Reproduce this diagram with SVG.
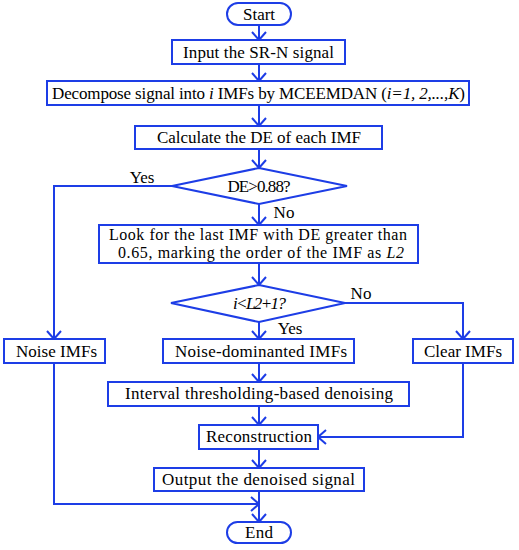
<svg xmlns="http://www.w3.org/2000/svg" width="519" height="550" viewBox="0 0 519 550">
<defs>
<style>
.b{fill:#fff;stroke:#1d3de6;stroke-width:2}
.c{fill:none;stroke:#1d3de6;stroke-width:2}
.t{font-family:'Liberation Serif','DejaVu Serif',serif;font-size:17px;fill:#000;text-anchor:middle}
.s{font-size:16px}
.i{font-style:italic}
</style>
<marker id="a" viewBox="0 0 10 16" refX="9" refY="8" markerWidth="10" markerHeight="16" markerUnits="userSpaceOnUse" orient="auto">
<path d="M1,1 L9,8 L1,15" fill="none" stroke="#1d3de6" stroke-width="2"/>
</marker>
</defs>
<rect width="519" height="550" fill="#fff"/>
<g id="connectors" class="c">
<path class="c" d="M259,25 V40" marker-end="url(#a)"/>
<path class="c" d="M259,64 V81" marker-end="url(#a)"/>
<path class="c" d="M259,105 V126" marker-end="url(#a)"/>
<path class="c" d="M259,149 V168" marker-end="url(#a)"/>
<path class="c" d="M259,204 V225" marker-end="url(#a)"/>
<path class="c" d="M172,186 H54 V339" marker-end="url(#a)"/>
<path class="c" d="M259,263 V285" marker-end="url(#a)"/>
<path class="c" d="M259,322 V339" marker-end="url(#a)"/>
<path class="c" d="M345,303 H463 V339" marker-end="url(#a)"/>
<path class="c" d="M259,363 V382" marker-end="url(#a)"/>
<path class="c" d="M259,406 V425" marker-end="url(#a)"/>
<path class="c" d="M463,363 V437 H318" marker-end="url(#a)"/>
<path class="c" d="M259,449 V468" marker-end="url(#a)"/>
<path class="c" d="M54,363 V504 H259" marker-end="url(#a)"/>
<path class="c" d="M259,491 V522" marker-end="url(#a)"/>
</g>
<g class="t" font-family="Liberation Serif, DejaVu Serif, serif">
<g id="labels">
<text x="142" y="183">Yes</text>
<text x="284" y="218">No</text>
<text x="361" y="299">No</text>
<text x="290" y="334">Yes</text>
</g>
<g id="start"><rect class="b" x="227" y="3" width="64" height="22" rx="11"/><text x="259" y="20" textLength="32">Start</text></g>
<g id="input"><rect class="b" x="172" y="40" width="173" height="24"/><text x="258.5" y="58" textLength="151">Input the SR-N signal</text></g>
<g id="decompose"><rect class="b" x="47" y="81" width="422" height="24"/><text x="258.5" y="99" textLength="413">Decompose signal into <tspan class="i">i</tspan> IMFs by MCEEMDAN (<tspan class="i">i=1, 2,...,K</tspan>)</text></g>
<g id="calculate"><rect class="b" x="135" y="126" width="247" height="23"/><text x="259" y="143" textLength="204">Calculate the DE of each IMF</text></g>
<g id="de"><path class="b" d="M259,168 L347,186 L259,204 L172,186 Z"/><text x="259" y="192" textLength="63">DE&gt;0.88?</text></g>
<g id="look"><rect class="b" x="99" y="225" width="319" height="38"/><text class="s" x="258" y="240" textLength="298">Look for the last IMF with DE greater than</text><text class="s" x="261" y="257.5" textLength="286">0.65, marking the order of the IMF as <tspan class="i">L2</tspan></text></g>
<g id="cond"><path class="b" d="M259,285 L345,303 L259,322 L171,303 Z"/><text class="i" x="259.5" y="309" textLength="53">i&lt;L2+1?</text></g>
<g id="noise"><rect class="b" x="4" y="339" width="101" height="24"/><text x="56.5" y="357" textLength="81">Noise IMFs</text></g>
<g id="noisedom"><rect class="b" x="163" y="339" width="191" height="24"/><text x="261" y="357" textLength="172">Noise-dominanted IMFs</text></g>
<g id="clear"><rect class="b" x="413" y="339" width="100" height="24"/><text x="463" y="357" textLength="78">Clear IMFs</text></g>
<g id="interval"><rect class="b" x="108" y="382" width="301" height="24"/><text x="259" y="399" textLength="268">Interval thresholding-based denoising</text></g>
<g id="recon"><rect class="b" x="199" y="425" width="119" height="24"/><text x="259" y="442" textLength="106">Reconstruction</text></g>
<g id="output"><rect class="b" x="154" y="468" width="210" height="23"/><text x="258.5" y="485" textLength="193">Output the denoised signal</text></g>
<g id="end"><rect class="b" x="227" y="522" width="64" height="21" rx="10.5"/><text x="259" y="538" textLength="28">End</text></g>
</g>
</svg>
